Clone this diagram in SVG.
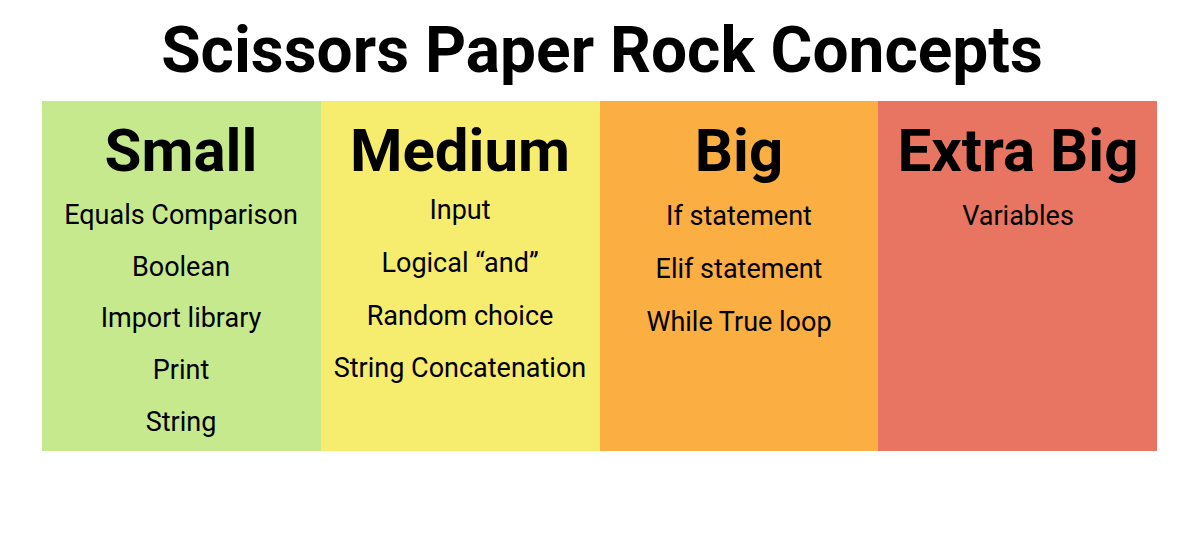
<svg xmlns="http://www.w3.org/2000/svg" width="1204" height="535" viewBox="0 0 1204 535">
<style>
text{font-family:Roboto,"Liberation Sans",sans-serif;fill:#000;text-anchor:middle}
.t{font-size:64px;font-weight:bold}
.h{font-size:60px;font-weight:bold}
.i{font-size:27px}
</style>
<rect width="1204" height="535" fill="#fff"/>
<text class="t" x="602" y="72">Scissors Paper Rock Concepts</text>
<g id="small"><rect x="42" y="101" width="279" height="350" fill="#C5E98C"/>
<text class="h" x="181" y="171">Small</text>
<text class="i" x="181" y="224">Equals Comparison</text>
<text class="i" x="181" y="276">Boolean</text>
<text class="i" x="181" y="327">Import library</text>
<text class="i" x="181" y="379">Print</text>
<text class="i" x="181" y="431">String</text></g>
<g id="medium"><rect x="321" y="101" width="279" height="350" fill="#F6EC6E"/>
<text class="h" x="460" y="171">Medium</text>
<text class="i" x="460" y="219">Input</text>
<text class="i" x="460" y="272">Logical “and”</text>
<text class="i" x="460" y="325">Random choice</text>
<text class="i" x="460" y="377">String Concatenation</text></g>
<g id="big"><rect x="600" y="101" width="278" height="350" fill="#FBAE42"/>
<text class="h" x="739" y="171">Big</text>
<text class="i" x="739" y="225">If statement</text>
<text class="i" x="739" y="278">Elif statement</text>
<text class="i" x="739" y="331">While True loop</text></g>
<g id="extrabig"><rect x="878" y="101" width="279" height="350" fill="#E87562"/>
<text class="h" x="1018" y="171">Extra Big</text>
<text class="i" x="1018" y="225">Variables</text></g>
<g id="connectors"/>
</svg>
